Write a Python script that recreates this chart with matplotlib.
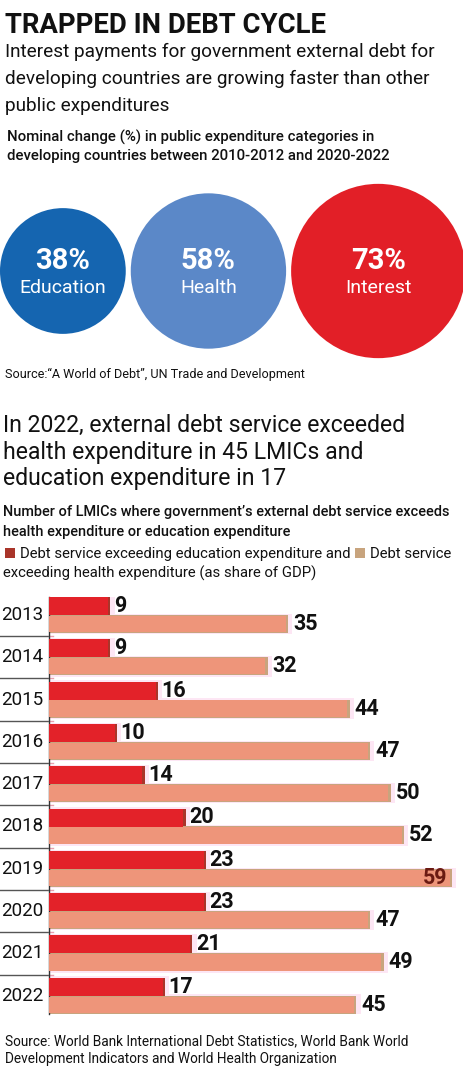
import matplotlib
matplotlib.use("Agg")
import matplotlib.pyplot as plt
from matplotlib.patches import Circle, Rectangle
from matplotlib.transforms import blended_transform_factory
import numpy as np

# circle panel data
circle_labels = ["Education", "Health", "Interest"]
circle_pcts = [38, 58, 73]
circle_colors = ["#1565b0", "#5b88c8", "#e21f27"]

# bar panel data
years = ["2013", "2014", "2015", "2016", "2017", "2018", "2019", "2020", "2021", "2022"]
education = [9, 9, 16, 10, 14, 20, 23, 23, 21, 17]
health = [35, 32, 44, 47, 50, 52, 59, 47, 49, 45]

plt.rcParams["font.family"] = ["Roboto", "DejaVu Sans"]

W, H = 464, 1070
fig = plt.figure(figsize=(W / 100, H / 100), dpi=100)
fig.patch.set_facecolor("white")
renderer = fig.canvas.get_renderer()


def fit(lines, width):
    # shrink a block of lines so its first line spans `width` pixels
    w = lines[0].get_window_extent(renderer).width
    size = lines[0].get_fontsize() * width / w
    for t in lines:
        t.set_fontsize(size)
    return size


# full-figure axes in pixel coords for texts and circles
bg = fig.add_axes([0, 0, 1, 1])
bg.set_xlim(0, W)
bg.set_ylim(H, 0)
bg.axis("off")

txt = "#111111"
t = bg.text(5, 33, "TRAPPED IN DEBT CYCLE", fontsize=22, fontweight="bold", color=txt)
fit([t], 320)

sub = ["Interest payments for government external debt for",
       "developing countries are growing faster than other",
       "public expenditures"]
fit([bg.text(5, 57 + 27 * i, line, fontsize=15, color=txt) for i, line in enumerate(sub)], 430)

nom = ["Nominal change (%) in public expenditure categories in",
       "developing countries between 2010-2012 and 2020-2022"]
fit([bg.text(7, 142 + 18 * i, line, fontsize=12, fontweight="medium", color=txt)
     for i, line in enumerate(nom)], 368)

# circles: area proportional to value
scale = 10.2
cy = 271
x_edge = 0
for lab, p, c in zip(circle_labels, circle_pcts, circle_colors):
    r = scale * np.sqrt(p)
    cx = x_edge + r
    bg.add_patch(Circle((cx, cy), r, facecolor=c, edgecolor="none"))
    bg.text(cx, cy - 2, f"{p}%", ha="center", va="baseline", fontsize=21,
            fontweight="bold", color="white")
    bg.text(cx, cy + 22, lab, ha="center", va="baseline", fontsize=14, color="white")
    x_edge = cx + r + 5

t = bg.text(5, 378, "Source:\u201cA World of Debt\u201d, UN Trade and Development", fontsize=11, color=txt)
fit([t], 298)

sec2 = ["In 2022, external debt service exceeded",
        "health expenditure in 45 LMICs and",
        "education expenditure in 17"]
fit([bg.text(3, 432 + 26.5 * i, line, fontsize=18, color=txt) for i, line in enumerate(sec2)], 402)

num = ["Number of LMICs where government\u2019s external debt service exceeds",
       "health expenditure or education expenditure"]
fit([bg.text(3, 516 + 20 * i, line, fontsize=12, fontweight="medium", color=txt)
     for i, line in enumerate(num)], 445)

# legend
edu_col, edu_dark = "#e32229", "#a9352a"
hea_col, hea_dark = "#ee957a", "#c8a47e"
bg.add_patch(Rectangle((5, 548), 10, 10, facecolor=edu_dark, edgecolor="none"))
t1 = bg.text(20, 558, "Debt service exceeding education expenditure and", fontsize=12, color=txt)
t2 = bg.text(3, 578, "exceeding health expenditure (as share of GDP)", fontsize=12, color=txt)
size = fit([t1, t2], 332)
x1 = t1.get_window_extent(renderer).x1
bg.add_patch(Rectangle((x1 + 5, 548), 10, 10, facecolor=hea_dark, edgecolor="none"))
bg.text(x1 + 20, 558, "Debt service", fontsize=size, color=txt)

src = ["Source: World Bank International Debt Statistics, World Bank World",
       "Development Indicators and World Health Organization"]
fit([bg.text(5, 1045 + 18 * i, line, fontsize=11, color=txt) for i, line in enumerate(src)], 402)

# bar chart
row_px = 42.3
bh = 18 / row_px
top = -bh
bottom = len(years) - 1 + bh
ax_px_h = (bottom - top) * row_px
ax_left = 49
ax_w_px = W - 5 - ax_left
ax = fig.add_axes([ax_left / W, (H - 597 - ax_px_h) / H, ax_w_px / W, ax_px_h / H])
ax.set_xlim(0, 60)
ax.set_ylim(bottom, top)
ax.set_facecolor("none")
for s in ["top", "right", "bottom"]:
    ax.spines[s].set_visible(False)
ax.spines["left"].set_color("#333333")
ax.spines["left"].set_linewidth(1)
ax.set_xticks([])
ax.set_yticks([])

y = np.arange(len(years))
y_edu = y - bh / 2
y_hea = y + bh / 2
cap = 0.35
halo = "#fde6f4"
ax.barh(y_edu, np.array(education) + 0.6, height=bh + 0.06, color=halo, zorder=1)
ax.barh(y_hea, np.array(health) + 0.6, height=bh + 0.06, color=halo, zorder=1)
ax.barh(y_edu, education, height=bh, color=edu_dark, zorder=2)
ax.barh(y_edu, np.array(education) - cap, height=bh, color=edu_col, zorder=3)
ax.barh(y_hea, health, height=bh, color=hea_dark, zorder=2)
ax.barh(y_hea, np.array(health) - cap, height=bh * 0.9, color=hea_col, zorder=3)

for yi, v in zip(y_edu, education):
    ax.text(v + 0.5, yi, str(v), va="center", ha="left", fontsize=15.5, fontweight="bold", color=txt)
for yi, v in zip(y_hea, health):
    if v > 55:
        ax.text(v - 0.7, yi, str(v), va="center", ha="right", fontsize=15.5, fontweight="bold",
                color="#6b1a12", zorder=4)
    else:
        ax.text(v + 0.7, yi, str(v), va="center", ha="left", fontsize=15.5, fontweight="bold", color=txt)

trans = blended_transform_factory(ax.transAxes, ax.transData)
for i in range(len(years) - 1):
    ax.plot([-ax_left / ax_w_px, 0], [i + 0.5, i + 0.5], transform=trans, color="#555555", lw=1, clip_on=False)
    ax.plot([0, 4 / ax_w_px], [i + 0.5, i + 0.5], transform=trans, color="#e8a0b0", lw=1, clip_on=False)
for yi, yr in zip(y, years):
    ax.text(-ax_left / ax_w_px + 1 / ax_w_px, yi, yr, transform=trans, va="center", ha="left",
            fontsize=13.5, color=txt)

fig.savefig("out.png", dpi=100, facecolor="white")
